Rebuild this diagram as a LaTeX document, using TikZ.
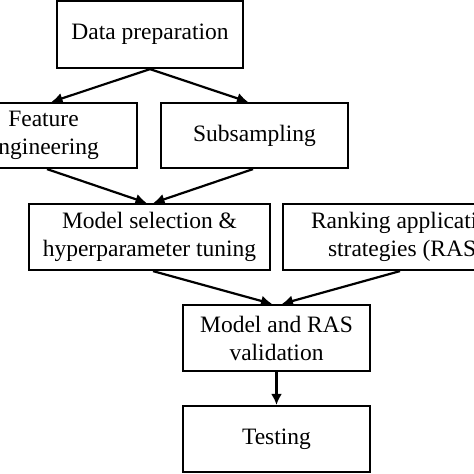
\documentclass[tikz,border=0pt]{standalone}
\usepackage{fontspec}
\setmainfont{Liberation Serif}
\usetikzlibrary{arrows.meta}
\begin{document}
\begin{tikzpicture}[x=1pt,y=-1pt,
  box/.style={draw=black,line width=2.2pt,rectangle,inner sep=0pt,align=center,
    font=\fontsize{23.5}{28}\selectfont,minimum height=66pt},
  arr/.style={line width=2.2pt,-{Latex[length=11pt,width=11pt]}}]
\useasboundingbox (0,0) rectangle (474,474);
\node[box,minimum width=186pt,minimum height=67pt] (dp) at (150,34.5) {Data preparation};
\node[box,minimum width=187pt,minimum height=65pt] (fe) at (43.5,135.5) {Feature\\engineering};
\node[box,minimum width=187pt,minimum height=65pt] (ss) at (254.5,135.5) {Subsampling};
\node[box,minimum width=241pt] (ms) at (149.5,237) {Model selection \&\\hyperparameter tuning};
\node[box,minimum width=246pt] (ra) at (406,237) {Ranking application\\strategies (RAS)};
\node[box,minimum width=187pt] (mv) at (276.5,338) {Model and RAS\\validation};
\node[box,minimum width=187pt] (te) at (276.5,439) {Testing};
\draw[arr] (dp.south) -- ([xshift=8pt]fe.north);
\draw[arr] (dp.south) -- ([xshift=-6.5pt]ss.north);
\draw[arr] ([xshift=3.5pt]fe.south) -- ([xshift=-3pt]ms.north);
\draw[arr] ([xshift=-1.5pt]ss.south) -- ([xshift=4pt]ms.north);
\draw[arr] ([xshift=3.5pt]ms.south) -- ([xshift=-4.5pt]mv.north);
\draw[arr] ([xshift=-6pt]ra.south) -- ([xshift=5.5pt]mv.north);
\draw[arr] (mv.south) -- (te.north);
\end{tikzpicture}
\end{document}
